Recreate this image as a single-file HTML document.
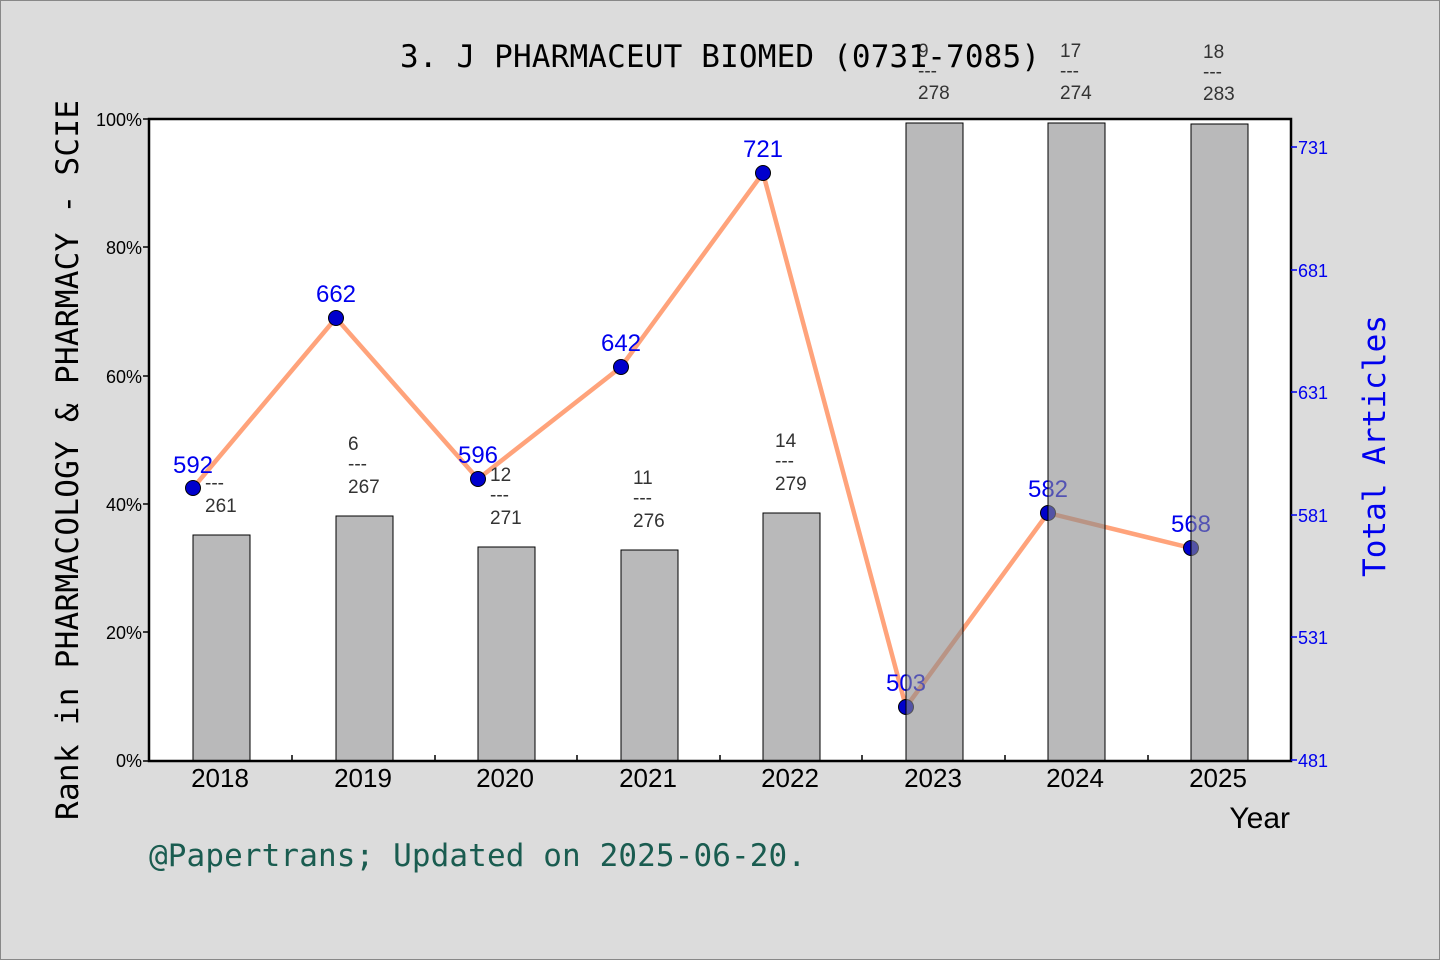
<!DOCTYPE html>
<html><head><meta charset="utf-8"><style>html,body{margin:0;padding:0;background:#dcdcdc}svg{display:block}</style></head>
<body>
<svg width="1440" height="960" viewBox="0 0 1440 960" xmlns="http://www.w3.org/2000/svg">
<rect x="0" y="0" width="1440" height="960" fill="#dcdcdc"/>
<rect x="0.5" y="0.5" width="1439" height="959" fill="none" stroke="#888" stroke-width="1"/>
<rect x="149" y="119" width="1142" height="642" fill="#fff"/>
<polyline points="193,488 336,318 478,479 621,367 763,173 906,707 1048,513 1191,548" fill="none" stroke="#ff8c5a" stroke-opacity="0.8" stroke-width="4.5" stroke-linejoin="round"/>
<g fill="#0000cc" stroke="#000" stroke-width="1">
<circle cx="193" cy="488" r="7.5"/><circle cx="336" cy="318" r="7.5"/><circle cx="478" cy="479" r="7.5"/><circle cx="621" cy="367" r="7.5"/><circle cx="763" cy="173" r="7.5"/><circle cx="906" cy="707" r="7.5"/><circle cx="1048" cy="513" r="7.5"/><circle cx="1191" cy="548" r="7.5"/>
</g>
<g font-family="Liberation Sans, sans-serif" font-size="24" fill="#0000ee" text-anchor="middle">
<text x="193" y="473">592</text><text x="336" y="302">662</text><text x="478" y="463">596</text><text x="621" y="351">642</text><text x="763" y="157">721</text><text x="906" y="691">503</text><text x="1048" y="497">582</text><text x="1191" y="532">568</text>
</g>
<g fill="#8a8b8c" fill-opacity="0.6" stroke="#000" stroke-width="1">
<rect x="193" y="535" width="57" height="226"/>
<rect x="336" y="516" width="57" height="245"/>
<rect x="478" y="547" width="57" height="214"/>
<rect x="621" y="550" width="57" height="211"/>
<rect x="763" y="513" width="57" height="248"/>
<rect x="906" y="123" width="57" height="638"/>
<rect x="1048" y="123" width="57" height="638"/>
<rect x="1191" y="124" width="57" height="637"/>
</g>
<g font-family="Liberation Sans, sans-serif" font-size="19" fill="#333">
<text x="205" y="512">261</text><text x="205" y="489">---</text>
<text x="348" y="450">6</text><text x="348" y="470">---</text><text x="348" y="493">267</text>
<text x="490" y="481">12</text><text x="490" y="501">---</text><text x="490" y="524">271</text>
<text x="633" y="484">11</text><text x="633" y="504">---</text><text x="633" y="527">276</text>
<text x="775" y="447">14</text><text x="775" y="467">---</text><text x="775" y="490">279</text>
<text x="918" y="57">9</text><text x="918" y="77">---</text><text x="918" y="99">278</text>
<text x="1060" y="57">17</text><text x="1060" y="77">---</text><text x="1060" y="99">274</text>
<text x="1203" y="58">18</text><text x="1203" y="78">---</text><text x="1203" y="100">283</text>
</g>
<rect x="149" y="119" width="1142" height="642" fill="none" stroke="#000" stroke-width="2.5"/>
<g stroke="#000" stroke-width="1.5">
<line x1="149" y1="119" x2="143" y2="119"/><line x1="149" y1="247" x2="143" y2="247"/><line x1="149" y1="376" x2="143" y2="376"/><line x1="149" y1="504" x2="143" y2="504"/><line x1="149" y1="632" x2="143" y2="632"/><line x1="149" y1="761" x2="143" y2="761"/>
<line x1="292" y1="761" x2="292" y2="755"/><line x1="435" y1="761" x2="435" y2="755"/><line x1="577" y1="761" x2="577" y2="755"/><line x1="720" y1="761" x2="720" y2="755"/><line x1="862" y1="761" x2="862" y2="755"/><line x1="1005" y1="761" x2="1005" y2="755"/><line x1="1148" y1="761" x2="1148" y2="755"/>
</g>
<g stroke="#0000ee" stroke-width="1.5">
<line x1="1291" y1="147" x2="1297" y2="147"/><line x1="1291" y1="270" x2="1297" y2="270"/><line x1="1291" y1="392" x2="1297" y2="392"/><line x1="1291" y1="515" x2="1297" y2="515"/><line x1="1291" y1="637" x2="1297" y2="637"/><line x1="1291" y1="760" x2="1297" y2="760"/>
</g>
<g font-family="Liberation Sans, sans-serif" font-size="18" fill="#000" text-anchor="end">
<text x="142" y="126">100%</text><text x="142" y="254">80%</text><text x="142" y="383">60%</text><text x="142" y="511">40%</text><text x="142" y="639">20%</text><text x="142" y="767">0%</text>
</g>
<g font-family="Liberation Sans, sans-serif" font-size="18" fill="#0000ee">
<text x="1298" y="154">731</text><text x="1298" y="277">681</text><text x="1298" y="399">631</text><text x="1298" y="522">581</text><text x="1298" y="644">531</text><text x="1298" y="767">481</text>
</g>
<g font-family="Liberation Sans, sans-serif" font-size="26" fill="#000" text-anchor="middle">
<text x="220" y="787">2018</text><text x="363" y="787">2019</text><text x="505" y="787">2020</text><text x="648" y="787">2021</text><text x="790" y="787">2022</text><text x="933" y="787">2023</text><text x="1075" y="787">2024</text><text x="1218" y="787">2025</text>
</g>
<text x="1290" y="828" font-family="Liberation Sans, sans-serif" font-size="30" text-anchor="end">Year</text>
<text x="720" y="67" font-family="DejaVu Sans Mono, Liberation Mono, monospace" font-size="31" text-anchor="middle" textLength="640">3. J PHARMACEUT BIOMED (0731-7085)</text>
<text transform="translate(78,460) rotate(-90)" font-family="DejaVu Sans Mono, Liberation Mono, monospace" font-size="31" text-anchor="middle" textLength="720">Rank in PHARMACOLOGY &amp; PHARMACY - SCIE</text>
<text transform="translate(1385,446) rotate(-90)" font-family="DejaVu Sans Mono, Liberation Mono, monospace" font-size="31" fill="#0000ee" text-anchor="middle" textLength="262">Total Articles</text>
<text x="149" y="866" font-family="DejaVu Sans Mono, Liberation Mono, monospace" font-size="31" fill="#1a5c50" textLength="657">@Papertrans; Updated on 2025-06-20.</text>
</svg>
</body></html>
